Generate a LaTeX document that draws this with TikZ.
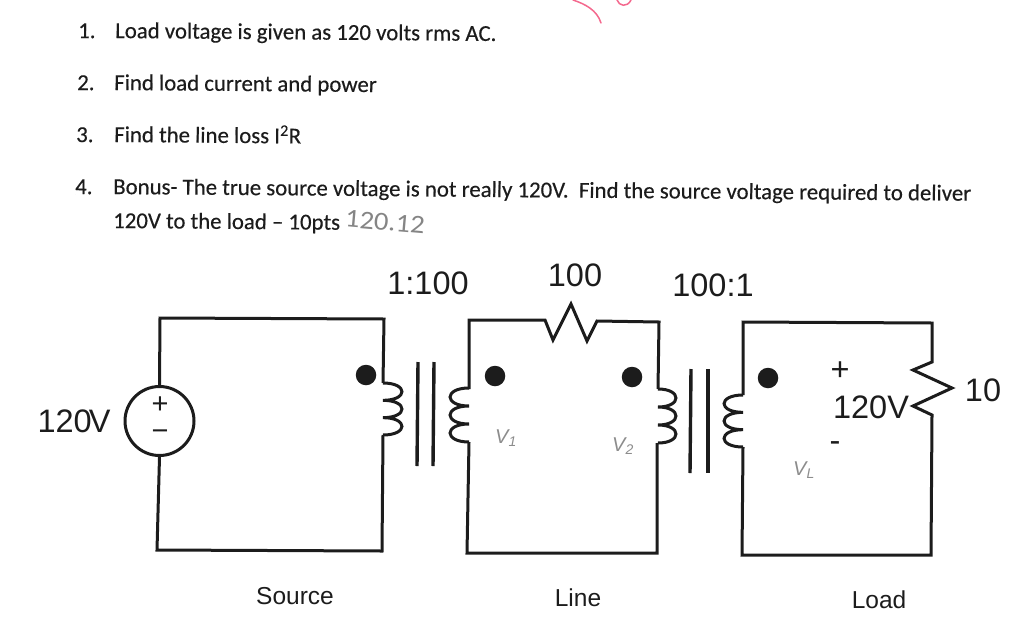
\documentclass[tikz,border=0pt]{standalone}
\usepackage{fontspec}
\setmainfont{Liberation Sans}
\newfontfamily\listfont[FakeBold=0.35,Numbers=Lining]{Carlito}
\newfontfamily\plainlist[Numbers=Lining]{Carlito}
\newcommand{\coilpath}[4]{% x, ytop, ybottom, bulge
  (#1,#2) .. controls ({#1+1.33*(#4)},#2) and ({#1+1.33*(#4)},{#2+(#3-#2)/3}) .. (#1,{#2+(#3-#2)/3})
  .. controls ({#1+1.33*(#4)},{#2+(#3-#2)/3}) and ({#1+1.33*(#4)},{#2+2*(#3-#2)/3}) .. (#1,{#2+2*(#3-#2)/3})
  .. controls ({#1+1.33*(#4)},{#2+2*(#3-#2)/3}) and ({#1+1.33*(#4)},#3) .. (#1,#3)}
\definecolor{ink}{HTML}{1C1C1C}
\tikzset{
  wire/.style={draw=ink,line width=3pt,line join=miter},
  core/.style={draw=ink,line width=3.4pt},
  polarity/.style={circle,fill=ink,minimum size=20.5pt,inner sep=0pt},
  listline/.style={anchor=base west,inner sep=0pt,rotate=-0.45,text=ink,font=\listfont\fontsize{22.8}{26}\selectfont},
  big/.style={inner sep=0pt,text=ink,font=\fontsize{32.5}{36}\selectfont},
  caption/.style={inner sep=0pt,text=ink,font=\fontsize{24.5}{28}\selectfont},
  hand/.style={inner sep=0pt,text=black!45,font=\fontsize{20}{22}\selectfont\itshape},
}
\begin{document}
\begin{tikzpicture}[x=1pt,y=-1pt]
\useasboundingbox (0,0) rectangle (1024,621);
% question list
\node[listline] (n1) at (78,38) {1.};
\node[listline] (t1) at (115,38) {Load voltage is given as 120 volts rms AC.};
\node[listline] (n2) at (77,90) {2.};
\node[listline] (t2) at (114,90) {Find load current and power};
\node[listline] (n3) at (76,142) {3.};
\node[listline] (t3) at (114,142) {Find the line loss I\textsuperscript{2}R};
\node[listline] (n4) at (75,194) {4.};
\node[listline] (t4) at (113,194) {Bonus- The true source voltage is not really 120V.\ \ Find the source voltage required to deliver};
\node[listline] (t5) at (113,228) {120V to the load – 10pts};
\node[inner sep=0pt,text=black!48,font=\plainlist\fontsize{26}{28}\selectfont,rotate=-5,xscale=1.1] (ans) at (385,222) {120.12};
% pink scribble
\draw[draw=magenta!55!red!60,line width=1.5pt,line cap=round]
  (573,0) .. controls (585,4) and (597,10) .. (601,23);
\draw[draw=magenta!55!red!60,line width=1.5pt,line cap=round]
  (617,0) .. controls (619,6) and (627,8) .. (631,0);
% labels
\node[big] (ratioA) at (428,283) {1:100};
\node[big] (rval) at (575,275) {100};
\node[big] (ratioB) at (713,285) {100:1};
\node[big] (vs) at (74,421) {120\kern-3pt V};
\node[big] (loadplus) at (840,371) {+};
\node[big] (vload) at (871,407) {120V};
\node[big] (loadminus) at (835,447) {-};
\node[big] (rload) at (983,390) {10};
\node[caption] (src) at (295,596) {Source};
\node[caption] (lin) at (578,598) {Line};
\node[caption] (lod) at (879,600) {Load};
\node[hand] (v1) at (506,438) {V\textsubscript{1}};
\node[hand] (v2) at (623,446) {V\textsubscript{2}};
\node[hand] (vl) at (804,470) {V\textsubscript{L}};
% source
\node[circle,draw=ink,line width=3pt,minimum size=69pt,inner sep=0pt] (vsrc) at (159.5,421) {};
\node[inner sep=0pt,text=ink,font=\fontsize{29}{30}\selectfont] (srcplus) at (160,405.5) {+};
\node[inner sep=0pt,text=ink,font=\fontsize{29}{30}\selectfont] (srcminus) at (160,435) {\char"2212};
\coordinate (s1) at (160,318);
\coordinate (s2) at (384,319);
\coordinate (s3) at (383,383);
\coordinate (s4) at (383,435);
\coordinate (s5) at (382,551);
\coordinate (s6) at (157,550);
\draw[wire] (vsrc.north) -- (s1) -- (s2) -- (s3);
\draw[wire] \coilpath{383}{383}{435}{19};
\draw[wire] (s4) -- (s5) -- (s6) -- (vsrc.south);
% transformer 1 core
\coordinate (c1a) at (418,362); \coordinate (c1b) at (417,466);
\coordinate (c2a) at (434,362); \coordinate (c2b) at (433,466);
\draw[core] (c1a) -- (c1b);
\draw[core] (c2a) -- (c2b);
\node[polarity] (d1) at (366,375) {};
\node[polarity] (d2) at (495,376) {};
% line
\coordinate (l1) at (469,389);
\coordinate (l2) at (469,320);
\coordinate (z0) at (545,320);
\coordinate (z1) at (553,340);
\coordinate (z2) at (571,304);
\coordinate (z3) at (587,341);
\coordinate (z4) at (597,321);
\coordinate (l3) at (659,322);
\coordinate (l4) at (658,389);
\coordinate (l5) at (657,443);
\coordinate (l6) at (657,553);
\coordinate (l7) at (467,553);
\coordinate (l8) at (469,442);
\draw[wire] (l1) -- (l2) -- (z0) -- (z1) -- (z2) -- (z3) -- (z4) -- (l3) -- (l4);
\draw[wire] \coilpath{469}{388}{442}{-19};
\draw[wire] \coilpath{658}{389}{443}{18};
\draw[wire] (l5) -- (l6) -- (l7) -- (l8);
% transformer 2 core
\coordinate (c3a) at (691,369); \coordinate (c3b) at (690,473);
\coordinate (c4a) at (708,369); \coordinate (c4b) at (708,473);
\draw[core] (c3a) -- (c3b);
\draw[core] (c4a) -- (c4b);
\node[polarity] (d3) at (632,377) {};
\node[polarity] (d4) at (768,378) {};
% load
\coordinate (q1) at (743,395);
\coordinate (q2) at (743,322);
\coordinate (q3) at (932,323);
\coordinate (y0) at (932,362);
\coordinate (y1) at (913,370);
\coordinate (y2) at (952,388);
\coordinate (y3) at (913,406);
\coordinate (y4) at (932,415);
\coordinate (q4) at (931,555);
\coordinate (q5) at (742,555);
\coordinate (q6) at (743,447);
\draw[wire] (q1) -- (q2) -- (q3) -- (y0) -- (y1) -- (y2) -- (y3) -- (y4) -- (q4) -- (q5) -- (q6);
\draw[wire] \coilpath{743}{395}{447}{-19};
\end{tikzpicture}
\end{document}
